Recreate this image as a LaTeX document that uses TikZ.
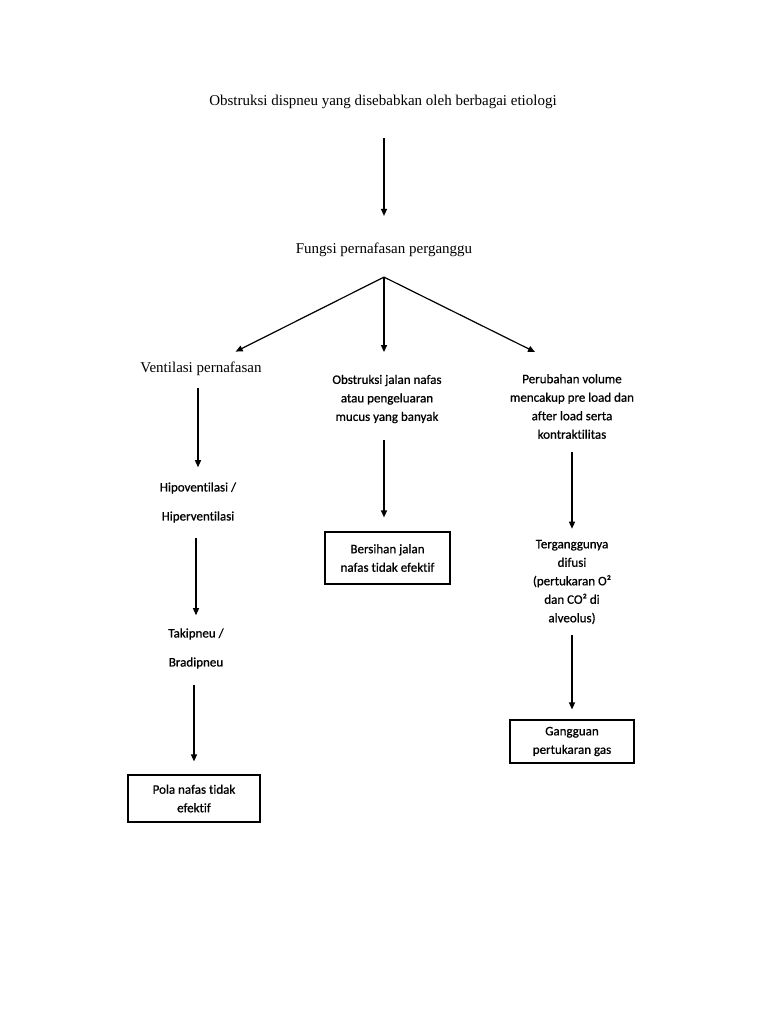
\documentclass[tikz,border=0pt]{standalone}
\usepackage{fontspec}
\setmainfont{Liberation Serif}
\newfontfamily\calibri[Ligatures={NoCommon},RawFeature={-liga;-dlig},FakeBold=0.8]{Carlito}
\usetikzlibrary{arrows.meta,calc}

\begin{document}
\begin{tikzpicture}[x=1pt,y=-1pt,
  serif/.style={inner sep=0pt,font=\fontsize{15}{18}\selectfont},
  txt/.style={inner sep=0pt,align=center,font=\calibri\fontsize{13}{18.5}\selectfont},
  wide/.style={inner sep=0pt,align=center,font=\calibri\fontsize{13}{29}\selectfont},
  box/.style={draw,line width=1.2pt,align=center,inner sep=0pt,font=\calibri\fontsize{13}{18.5}\selectfont},
  arr/.style={-{Triangle[length=7pt,width=6pt]},line width=1.2pt}]
\useasboundingbox (0,0) rectangle (768,1024);
% top of the chart
\node[serif] (etiologi) at (383,102) {Obstruksi dispneu yang disebabkan oleh berbagai etiologi};
\node[serif] (fungsi) at (384,250) {Fungsi pernafasan perganggu};
\coordinate (split) at ($(fungsi.south)+(0,20)$);
\coordinate (perubtip) at (535,352);
% three branches
\node[serif] (ventil) at (201,369) {Ventilasi pernafasan};
\node[txt] (obstr) at (387,399) {Obstruksi jalan nafas\\atau pengeluaran\\mucus yang banyak};
\node[txt] (perub) at (572,406.5) {Perubahan volume\\mencakup pre load dan\\after load serta\\kontraktilitas};
% left column
\node[wide] (hipo) at (198,502.5) {Hipoventilasi /\\Hiperventilasi};
\node[wide] (takip) at (196,648.5) {Takipneu /\\Bradipneu};
\node[box,minimum width=132pt,minimum height=47pt] (pola) at (194,798.5) {Pola nafas tidak\\efektif};
% middle column
\node[box,minimum width=125pt,minimum height=52pt] (bersih) at (387.5,558) {Bersihan jalan\\nafas tidak efektif};
% right column
\node[txt] (terg) at (572,582) {Terganggunya\\difusi\\(pertukaran O²\\dan CO² di\\alveolus)};
\node[box,minimum width=124pt,minimum height=43pt] (gangguan) at (572,741.5) {Gangguan\\pertukaran gas};

\draw[arr,shorten <=29pt,shorten >=27pt] (etiologi.south -| fungsi) -- (fungsi);
\draw[arr,shorten >=23pt] (split) -- (ventil);
\draw[arr,shorten >=22.6pt] (split) -- (split |- obstr.north);
\draw[arr] (split) -- (perubtip);
\draw[arr,shorten <=12pt,shorten >=15pt] (ventil.south -| hipo) -- (hipo);
\draw[arr,shorten <=15pt,shorten >=13pt] (hipo.south -| takip) -- (takip);
\draw[arr,shorten <=16pt,shorten >=13pt] (takip.south -| pola) -- (pola);
\draw[arr,shorten <=16.6pt,shorten >=14pt] (obstr.south -| split) -- (split |- bersih.north);
\draw[arr,shorten <=13pt,shorten >=11pt] (perub) -- (terg);
\draw[arr,shorten <=11pt,shorten >=10pt] (terg) -- (gangguan);
\end{tikzpicture}
\end{document}
